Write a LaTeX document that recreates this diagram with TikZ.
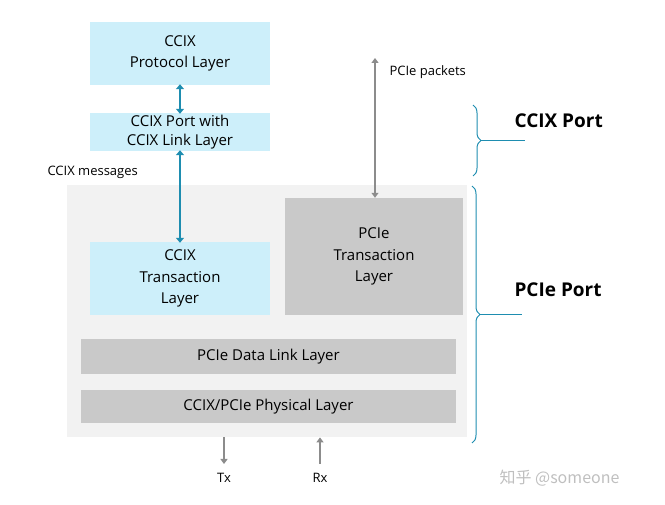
\documentclass[tikz,border=0pt]{standalone}
\usepackage{fontspec}
\setmainfont{Open Sans}
\newfontfamily\cjk{Noto Sans CJK SC}
\usetikzlibrary{arrows.meta,decorations.pathreplacing}
\definecolor{lblue}{HTML}{CDEFFA}
\definecolor{lgray}{HTML}{F2F2F2}
\definecolor{mgray}{HTML}{C9C9C9}
\definecolor{teal}{HTML}{1E8DB0}
\definecolor{agray}{HTML}{8C8C8C}
\begin{document}
\begin{tikzpicture}[x=1pt,y=-1pt,
  box/.style={inner sep=0pt,align=center,font=\fontsize{15}{21.5}\selectfont},
  bl/.style={box,fill=lblue},
  gr/.style={box,fill=mgray},
  tarr/.style={teal,line width=2.2pt,{Triangle[width=8pt,length=5pt]}-{Triangle[width=8pt,length=5pt]}},
  garr/.style={agray,line width=2.2pt},
  brc/.style={teal,line width=1pt,decorate,decoration={brace,amplitude=8pt,aspect=#1}},
  lab/.style={font=\fontsize{13}{15}\selectfont},
  port/.style={font=\bfseries\fontsize{19}{22}\selectfont}]
\useasboundingbox (0,0) rectangle (665,505);
\node[box,fill=lgray,minimum width=400pt,minimum height=252pt,anchor=north west] (outer) at (67,185) {};
\node[bl,minimum width=180pt,minimum height=63pt] (proto) at (180,53.5) {CCIX\\Protocol Layer};
\node[bl,minimum width=180pt,minimum height=38pt,font=\fontsize{15}{19}\selectfont] (link) at (180,132) {CCIX Port with\\CCIX Link Layer};
\node[bl,minimum width=180pt,minimum height=73pt] (ctl) at (180,278.5) {CCIX\\Transaction\\Layer};
\node[gr,minimum width=178pt,minimum height=117pt] (ptl) at (374,256.5) {PCIe\\Transaction\\Layer};
\node[gr,minimum width=375pt,minimum height=35pt] (dll) at (268.5,356.5) {PCIe Data Link Layer};
\node[gr,minimum width=375pt,minimum height=33pt] (phy) at (268.5,406.5) {CCIX/PCIe Physical Layer};
\draw[tarr] ([yshift=1pt]proto.south) -- ([yshift=-1pt]link.north);
\draw[tarr] ([yshift=1pt]link.south) -- ([yshift=-1pt]ctl.north);
\node[lab,anchor=west] (msg) at (44,172) {CCIX messages};
\coordinate (pk) at (375,58);
\draw[garr,{Triangle[width=7pt,length=5pt]}-{Triangle[width=7pt,length=5pt]}] (pk) -- (ptl.north -| pk);
\node[lab,anchor=west] (pkl) at (386,72) {PCIe packets};
\coordinate (tx) at (224,464);
\coordinate (rx) at (320,464);
\draw[garr,-{Triangle[width=7pt,length=5pt]}] (outer.south -| tx) -- (tx);
\draw[garr,-{Triangle[width=7pt,length=5pt]}] (rx) -- (outer.south -| rx);
\node[lab] (txl) at (224,478) {Tx};
\node[lab] (rxl) at (320,478) {Rx};
\draw[brc=0.5] (473,105) -- (473,176);
\draw[teal,line width=1pt] (481,141) -- (525,141);
\draw[brc=0.5] (472,186) -- (472,443);
\draw[teal,line width=1pt] (480,315) -- (522,315);
\node[port,anchor=west] (cp) at (511,121) {CCIX Port};
\node[port,anchor=west] (pp) at (511,290) {PCIe Port};
\node[font=\cjk\fontsize{16}{18}\selectfont,text=black!25,anchor=west] (wm) at (496,478) {知乎 @someone};
\end{tikzpicture}
\end{document}
